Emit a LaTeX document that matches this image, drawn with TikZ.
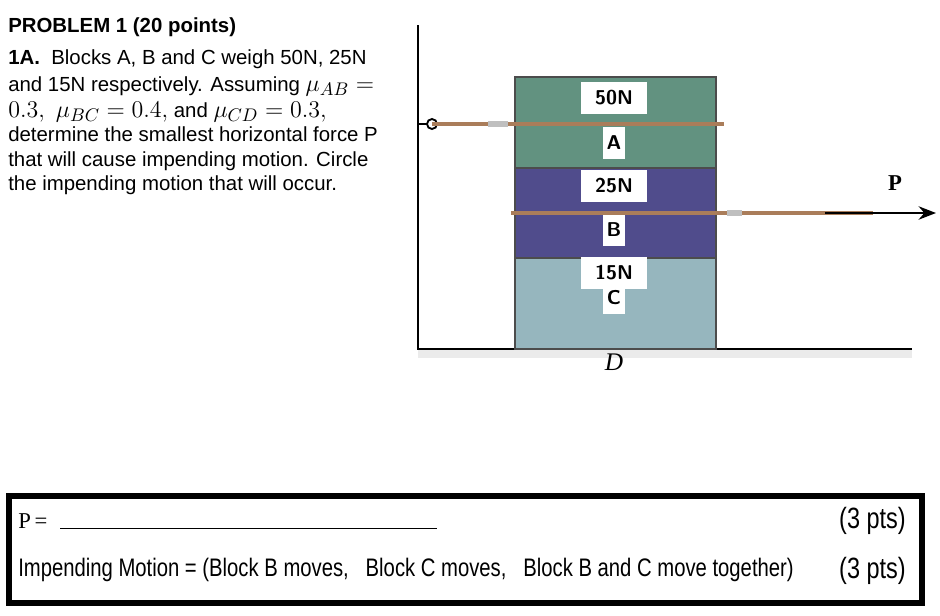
\documentclass[tikz,border=0pt]{standalone}
\usepackage{fontspec}
\setmainfont{Liberation Sans}
\newfontfamily\narrowsf{Liberation Sans}[FakeStretch=0.8]
\newfontfamily\serifrm{Liberation Serif}
\usetikzlibrary{arrows.meta}
\definecolor{blockA}{RGB}{98,146,128}
\definecolor{blockB}{RGB}{80,76,140}
\definecolor{blockC}{RGB}{150,182,190}
\definecolor{rope}{RGB}{170,125,90}
\newcommand{\mathbig}[1]{\scalebox{1.25}{$#1$}}
\tikzset{
  txt/.style={anchor=base west, inner sep=0pt, font=\fontsize{15.3}{18}\selectfont},
  tag/.style={fill=white, inner sep=3pt, minimum height=24pt, font=\sffamily\bfseries\fontsize{15}{17}\selectfont},
  blk/.style={draw=black!70, line width=0.8pt},
  cable/.style={draw=rope, line width=3.4pt},
}
\begin{document}
\begin{tikzpicture}[x=0.75pt,y=-0.75pt]
\useasboundingbox (0,0) rectangle (940,615);
% problem text
\node[txt, font=\bfseries\fontsize{15.3}{18}\selectfont] (title) at (8,32) {PROBLEM 1 (20 points)};
\node[txt] (l1) at (8,64) {\textbf{1A.}\ \ Blocks A, B and C weigh 50N, 25N};
\node[txt] (l2) at (8,91) {and 15N respectively. Assuming \mathbig{\mu_{AB}=}};
\node[txt] (l3) at (8,117) {\mathbig{0.3,\ \mu_{BC}=0.4,} and \mathbig{\mu_{CD}=0.3,}};
\node[txt] (l4) at (8,141) {determine the smallest horizontal force P};
\node[txt] (l5) at (8,166) {that will cause impending motion. Circle};
\node[txt] (l6) at (8,190) {the impending motion that will occur.};

% wall and floor
\fill[black!8] (418,349) rectangle (912,358);
\draw[line width=0.8pt] (418,25) -- (418,349) -- (912,349);

% blocks
\draw[blk, fill=blockA] (515,77) rectangle (716,168);
\draw[blk, fill=blockB] (515,168) rectangle (716,258);
\draw[blk, fill=blockC] (515,258) rectangle (716,349);
\node[tag, minimum width=50pt] (wA) at (614,98) {50N};
\node[tag] (nA) at (614,143) {A};
\node[tag, minimum width=50pt] (wB) at (614,186) {25N};
\node[tag] (nB) at (614,230) {B};
\node[tag, minimum width=50pt] (wC) at (614,273) {15N};
\node[tag] (nC) at (614,298) {C};
\node[font=\serifrm\itshape\fontsize{19}{21}\selectfont] (D) at (614,362) {D};

% cables
\coordinate (eye) at (432,124);
\coordinate (endA) at (724,124);
\coordinate (startB) at (511,213);
\coordinate (tipB) at (873,213);
\coordinate (arr) at (936,213);
\draw[line width=0.8pt] (418,124) -- (eye);
\draw[line width=1.4pt, fill=white] (eye) circle (5);
\draw[cable] (eye) -- (endA);
\draw[cable] (startB) -- (tipB);
\fill[black!25] (488,121) rectangle (508,127);
\fill[black!25] (727,210) rectangle (742,216);
\draw[line width=1.6pt, -{Stealth[length=13pt,width=10pt]}] (825,213) -- (arr);
\node[font=\serifrm\bfseries\fontsize{17}{19}\selectfont] (P) at (895,183) {P};

% answer box
\draw[line width=5pt] (9,496) rectangle (922,603);
\node[txt, font=\serifrm\fontsize{17}{19}\selectfont] (Peq) at (18,528) {P\,=};
\coordinate (lineL) at (60,528);
\coordinate (lineR) at (437,528);
\draw[line width=0.6pt] (lineL) -- (lineR);
\node[anchor=base east, inner sep=0pt, font=\narrowsf\fontsize{22}{24}\selectfont] (pts1) at (906,528) {(3 pts)};
\node[txt, font=\narrowsf\fontsize{19}{21}\selectfont] (imp) at (18,576) {Impending Motion = (Block B moves,\ \ \ Block C moves,\ \ \ Block B and C move together)};
\node[anchor=base east, inner sep=0pt, font=\narrowsf\fontsize{22}{24}\selectfont] (pts2) at (906,578) {(3 pts)};
\end{tikzpicture}
\end{document}
